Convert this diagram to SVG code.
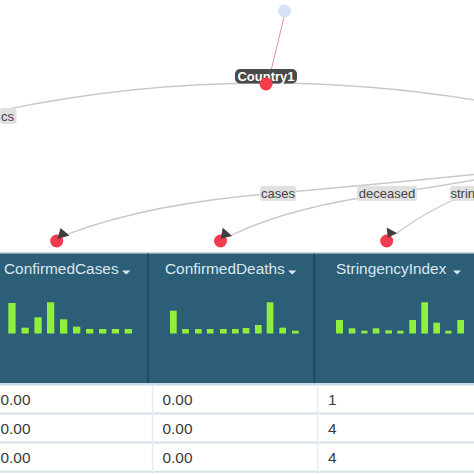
<svg xmlns="http://www.w3.org/2000/svg" width="474" height="474" viewBox="0 0 474 474">
<style>
.edge{fill:none;stroke:#c8c8c8;stroke-width:1.3}
.lbl{fill:#e0e0e0}
.lt{font-family:"Liberation Sans",Arial,sans-serif;font-size:13px;fill:#444}
.arrow{fill:#3f3f3f}
.dot{fill:#f23b4c}
.hdr{font-family:"Liberation Sans",Arial,sans-serif;font-size:15.4px;fill:#d8e7ef}
.caret{fill:#d8e7ef}
.bar{fill:#8ef03c}
.cell{font-family:"Liberation Sans",Arial,sans-serif;font-size:15.4px;fill:#3a3a3a}
.rowline{stroke:#d2e0e7;stroke-width:2}
.colline{stroke:#e4ecf0;stroke-width:1.5}
</style>
<rect x="0" y="0" width="474" height="474" fill="#ffffff"/>
<g id="connectors">
<path class="edge" d="M0,110.6 Q237,61.4 474,99.9"/>
<line x1="285.5" y1="11" x2="268" y2="83" stroke="#e39595" stroke-width="1"/>
<path class="edge" d="M68,234 Q150,203 278,193 Q380,184 474,174.5"/>
<path class="edge" d="M232,235 Q290,207 386,194 Q430,188 474,180"/>
<path class="edge" d="M397,233 Q425,212 462,196"/>
<g>
<rect class="lbl" x="0" y="108" width="16.5" height="16" rx="3"/>
<text class="lt" x="1" y="120.5">cs</text>
</g>
<g>
<rect class="lbl" x="260" y="186" width="36" height="15" rx="3"/>
<text class="lt" x="278" y="198" text-anchor="middle">cases</text>
</g>
<g>
<rect class="lbl" x="357" y="186" width="60" height="15" rx="3"/>
<text class="lt" x="387" y="198" text-anchor="middle">deceased</text>
</g>
<g>
<rect class="lbl" x="450" y="186" width="30" height="15" rx="3"/>
<text class="lt" x="450.5" y="198" font-size="12.5">strin</text>
</g>
</g>
<g id="node-top">
<circle cx="284.5" cy="11" r="6.5" fill="#d7e2f5"/>
</g>
<g id="node-country1">
<rect x="235" y="69" width="62" height="14.5" rx="5" fill="#4a4a4a"/>
<text x="266" y="81" text-anchor="middle" font-family="Liberation Sans,Arial,sans-serif" font-size="13" font-weight="bold" fill="#ffffff">Country1</text>
<circle class="dot" cx="266" cy="84" r="6.5"/>
</g>
<g id="table">
<rect x="0" y="252" width="474" height="1.5" fill="#c3d7e3"/>
<rect x="0" y="253.5" width="474" height="129.5" fill="#2d5e78"/>
<line x1="148" y1="253.5" x2="148" y2="383" stroke="#1e4256" stroke-width="1.5"/>
<line x1="314.3" y1="253.5" x2="314.3" y2="383" stroke="#1e4256" stroke-width="1.5"/>
<rect x="0" y="383" width="474" height="2.5" fill="#c9dbe4"/>
<line class="rowline" x1="0" y1="413.5" x2="474" y2="413.5"/>
<line class="rowline" x1="0" y1="442.5" x2="474" y2="442.5"/>
<line class="rowline" x1="0" y1="471.8" x2="474" y2="471.8"/>
<line class="colline" x1="152.5" y1="385.5" x2="152.5" y2="474"/>
<line class="colline" x1="317.5" y1="385.5" x2="317.5" y2="474"/>
<text class="cell" x="0.5" y="405">0.00</text>
<text class="cell" x="162.5" y="405">0.00</text>
<text class="cell" x="328" y="405">1</text>
<text class="cell" x="0.5" y="434">0.00</text>
<text class="cell" x="162.5" y="434">0.00</text>
<text class="cell" x="328" y="434">4</text>
<text class="cell" x="0.5" y="463">0.00</text>
<text class="cell" x="162.5" y="463">0.00</text>
<text class="cell" x="328" y="463">4</text>
</g>
<g id="node-confirmedcases">
<circle class="dot" cx="56.7" cy="241" r="6.5"/>
<polygon class="arrow" points="60.5,228 69.5,235.5 57.5,239"/>
<text class="hdr" x="4" y="273.5">ConfirmedCases</text>
<polygon class="caret" points="122,270.5 130.5,270.5 126.2,274.5"/>
<rect class="bar" x="8.3" y="303" width="7.3" height="30.5"/>
<rect class="bar" x="21.5" y="327.7" width="7.3" height="5.8"/>
<rect class="bar" x="34.4" y="317.3" width="7.3" height="16.2"/>
<rect class="bar" x="47" y="302.3" width="7.3" height="31.2"/>
<rect class="bar" x="60" y="319.3" width="7.3" height="14.2"/>
<rect class="bar" x="73" y="326.7" width="7.3" height="6.8"/>
<rect class="bar" x="86" y="329" width="7.3" height="4.5"/>
<rect class="bar" x="99" y="329" width="7.3" height="4.5"/>
<rect class="bar" x="111.8" y="329" width="7.3" height="4.5"/>
<rect class="bar" x="124.7" y="329" width="7.3" height="4.5"/>
</g>
<g id="node-confirmeddeaths">
<circle class="dot" cx="220.5" cy="241" r="6.5"/>
<polygon class="arrow" points="222.7,227.7 232.3,236 220.7,238.7"/>
<text class="hdr" x="165" y="273.5">ConfirmedDeaths</text>
<polygon class="caret" points="288,270.5 296.5,270.5 292.2,274.5"/>
<rect class="bar" x="170" y="310.7" width="6.7" height="22.8"/>
<rect class="bar" x="182.2" y="329" width="6.7" height="4.5"/>
<rect class="bar" x="195" y="329" width="6.7" height="4.5"/>
<rect class="bar" x="206.8" y="329" width="6.7" height="4.5"/>
<rect class="bar" x="220" y="329" width="6.7" height="4.5"/>
<rect class="bar" x="232" y="329" width="6.7" height="4.5"/>
<rect class="bar" x="242.7" y="328" width="6.7" height="5.5"/>
<rect class="bar" x="255" y="325" width="6.7" height="8.5"/>
<rect class="bar" x="266.7" y="302.3" width="6.7" height="31.2"/>
<rect class="bar" x="279.3" y="327.7" width="6.7" height="5.8"/>
<rect class="bar" x="292" y="330.7" width="6.7" height="2.8"/>
</g>
<g id="node-stringencyindex">
<circle class="dot" cx="386.7" cy="241" r="6.5"/>
<polygon class="arrow" points="386.7,227.5 397.3,233.3 387.7,237.5"/>
<text class="hdr" x="336" y="273.5">StringencyIndex</text>
<polygon class="caret" points="453,270.5 461,270.5 457,274.5"/>
<rect class="bar" x="336" y="320" width="7" height="13.5"/>
<rect class="bar" x="348.7" y="328.3" width="6.7" height="5.2"/>
<rect class="bar" x="361.3" y="330.7" width="6.2" height="2.8"/>
<rect class="bar" x="372.7" y="328.3" width="6.7" height="5.2"/>
<rect class="bar" x="385.3" y="330.3" width="6.7" height="3.2"/>
<rect class="bar" x="397.3" y="330.7" width="6.2" height="2.8"/>
<rect class="bar" x="409.3" y="320" width="6.7" height="13.5"/>
<rect class="bar" x="421.3" y="302.3" width="6.7" height="31.2"/>
<rect class="bar" x="433.3" y="322.7" width="6.7" height="10.8"/>
<rect class="bar" x="445.3" y="330.7" width="6.2" height="2.8"/>
<rect class="bar" x="457.3" y="320" width="6.7" height="13.5"/>
</g>
</svg>
